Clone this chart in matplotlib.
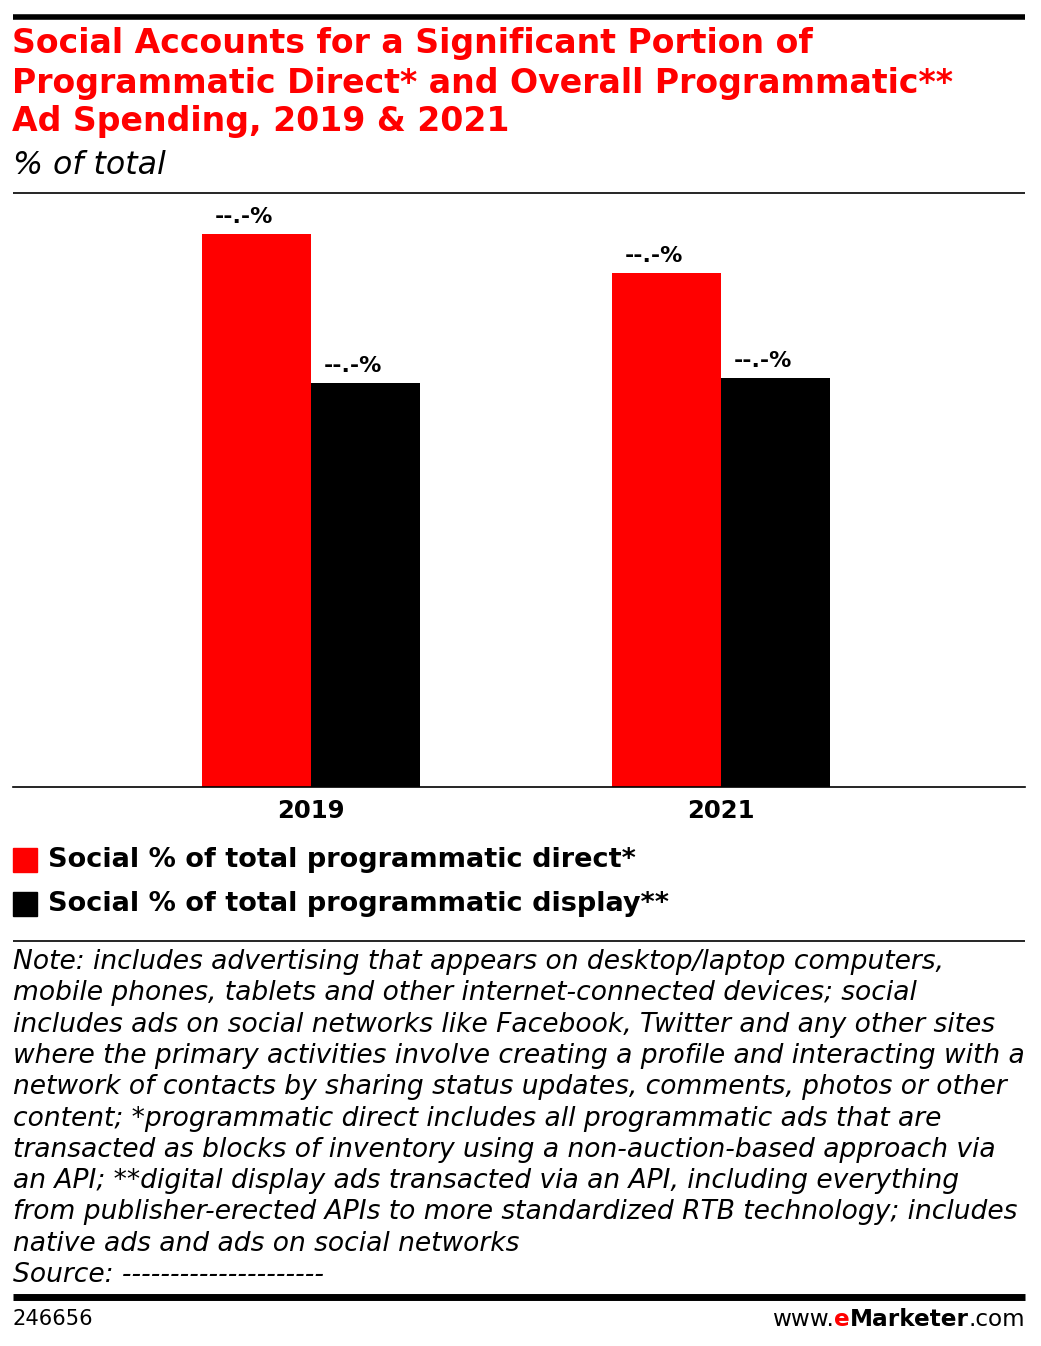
import matplotlib.pyplot as plt
import numpy as np

# data (values unknown in source, heights)
years = ['2019', '2021']
direct_vals = [55.3, 51.4]
display_vals = [40.4, 40.9]
direct_labels = ['--.-%', '--.-%']
display_labels = ['--.-%', '--.-%']
series_names = ['Social % of total programmatic direct*',
                'Social % of total programmatic display**']

title_lines = ['Social Accounts for a Significant Portion of',
               'Programmatic Direct* and Overall Programmatic**',
               'Ad Spending, 2019 & 2021']
note_lines = [
    'Note: includes advertising that appears on desktop/laptop computers,',
    'mobile phones, tablets and other internet-connected devices; social',
    'includes ads on social networks like Facebook, Twitter and any other sites',
    'where the primary activities involve creating a profile and interacting with a',
    'network of contacts by sharing status updates, comments, photos or other',
    'content; *programmatic direct includes all programmatic ads that are',
    'transacted as blocks of inventory using a non-auction-based approach via',
    'an API; **digital display ads transacted via an API, including everything',
    'from publisher-erected APIs to more standardized RTB technology; includes',
    'native ads and ads on social networks',
    'Source: ---------------------',
]

RED = '#ff0000'
W, H = 1041, 1346
plt.rcParams['font.family'] = ['DejaVu Sans']

fig = plt.figure(figsize=(W / 100, H / 100), dpi=100)
renderer = fig.canvas.get_renderer()

def fx(px):
    return px / W

def fy(py):
    return 1 - py / H

def fit_size(txt, target, **kw):
    # font size that makes txt about target px wide
    t = fig.text(0, 0, txt, fontsize=20, **kw)
    w = t.get_window_extent(renderer=renderer).width
    t.remove()
    return 20 * target / w

def hline(py, lw, x0=13, x1=1025):
    fig.add_artist(plt.Line2D([fx(x0), fx(x1)], [fy(py), fy(py)], color='black',
                              lw=lw, solid_capstyle='butt'))

# header
hline(17, 4.0)
ts = fit_size(title_lines[0], 802, fontweight='heavy')
for i, line in enumerate(title_lines):
    fig.text(fx(12), fy(44 + i * 39), line, color=RED, fontsize=ts,
             fontweight='heavy', va='center', ha='left')
ss = fit_size('% of total', 153, style='italic')
fig.text(fx(13), fy(165), '% of total', fontsize=ss, style='italic',
         va='center', ha='left')
hline(193, 1.2)

# chart
ax = fig.add_axes([fx(13), fy(787), fx(1025) - fx(13), fy(200) - fy(787)])
x = np.arange(len(years))
bw = 0.266
ax.bar(x - bw / 2, direct_vals, bw, color=RED, align='center')
ax.bar(x + bw / 2, display_vals, bw, color='black', align='center')
vs = fit_size('--.-%', 58, fontweight='bold')
for i in range(len(years)):
    ax.text(x[i] - bw / 2 - 0.03, direct_vals[i] + 0.7, direct_labels[i], ha='center',
            va='bottom', fontsize=vs, fontweight='bold')
    ax.text(x[i] + bw / 2 - 0.03, display_vals[i] + 0.7, display_labels[i], ha='center',
            va='bottom', fontsize=vs, fontweight='bold')
ax.set_xlim((13 - 311) / 410, (1025 - 311) / 410)
ax.set_ylim(0, 58.7)
ax.set_xticks(x)
xs = fit_size('2019', 68, fontweight='bold')
ax.set_xticklabels(years, fontsize=xs, fontweight='bold')
ax.tick_params(axis='x', length=0, pad=9)
ax.set_yticks([])
for s in ['top', 'left', 'right']:
    ax.spines[s].set_visible(False)
ax.spines['bottom'].set_linewidth(1.2)

# legend
ls = fit_size(series_names[0], 589, fontweight='bold')
for i, (name, col) in enumerate(zip(series_names, [RED, 'black'])):
    cy = 860 + i * 44
    fig.add_artist(plt.Rectangle((fx(13), fy(cy + 12)), fx(24), 24 / H,
                                 color=col, transform=fig.transFigure))
    fig.text(fx(48), fy(cy), name, fontsize=ls, fontweight='bold',
             va='center', ha='left')

hline(941, 1.2)

# notes
ns = fit_size(note_lines[3], 1014, style='italic')
for i, line in enumerate(note_lines):
    fig.text(fx(13), fy(962 + i * 31.3), line, fontsize=ns, style='italic',
             va='center', ha='left')

hline(1297, 5.0)

# footer
narrow = 'Liberation Sans Narrow'
fs = fit_size('246656', 80, family=narrow)
fig.text(fx(13), fy(1319), '246656', fontsize=fs, va='center', ha='left',
         family=narrow)
parts = [('.com', 'normal', 'black'), ('Marketer', 'bold', 'black'),
         ('e', 'bold', RED), ('www.', 'normal', 'black')]
total = sum(fit_size(p[0], 100, family=narrow, fontweight=p[1]) ** -1 for p in parts)
us = 20 * 253 / (total * 20 * 100) * 1.0
# total is sum of (width per point / 100 px) -> rescale so combined width = 253 px
us = 253 / (100 * total)
xr = 1025
for txt, wt, col in parts:
    t = fig.text(fx(xr), fy(1319), txt, fontsize=us, fontweight=wt, color=col,
                 va='center', ha='right', family=narrow)
    bb = t.get_window_extent(renderer=renderer)
    xr -= bb.width

fig.savefig('out.png', dpi=100)
